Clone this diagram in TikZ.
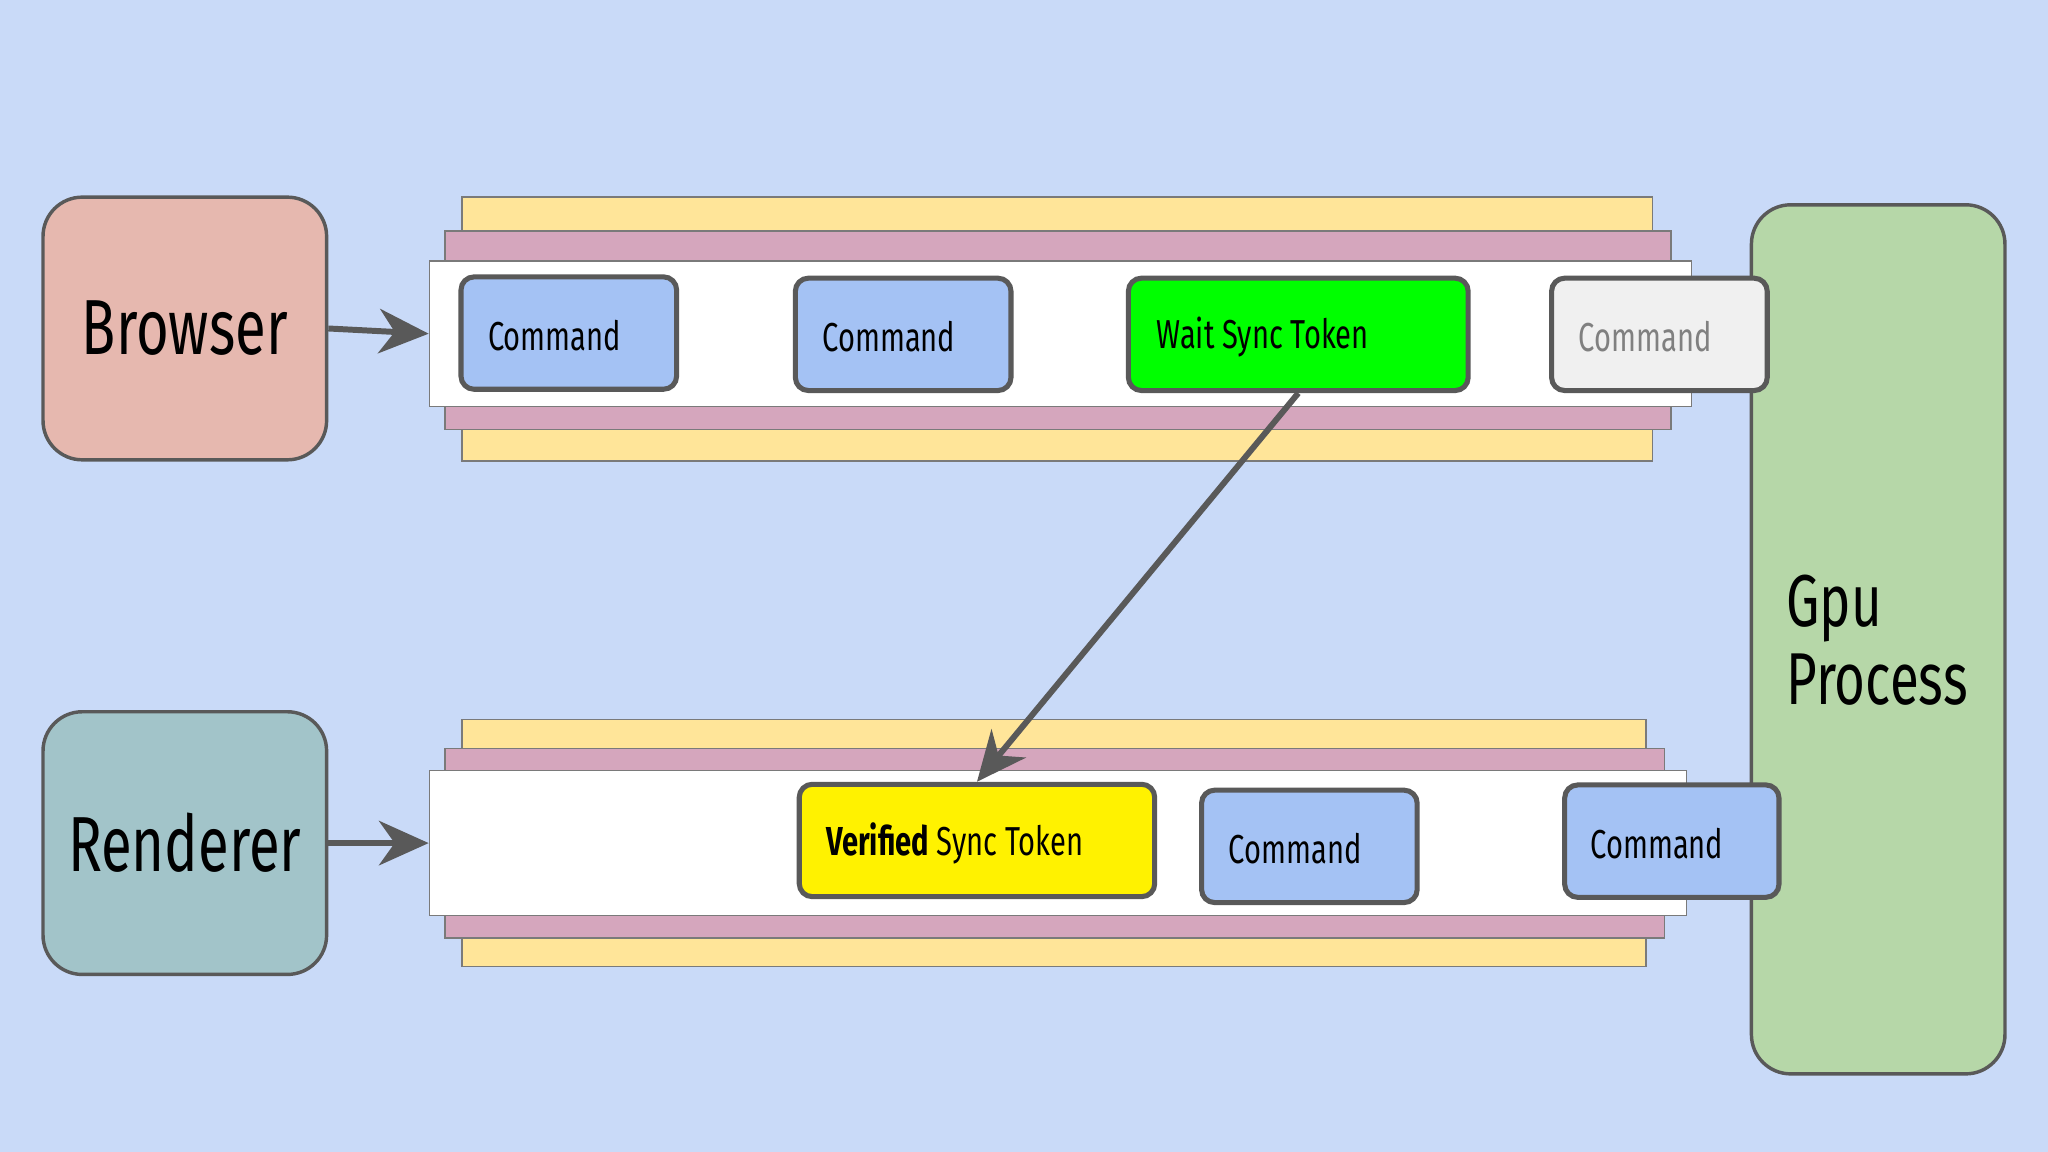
\documentclass[tikz,border=0pt]{standalone}
\usepackage{fontspec}
\setmainfont{Fira Sans}[FakeStretch=0.72]
\usetikzlibrary{arrows.meta}
\definecolor{bg}{HTML}{C9DAF8}
\definecolor{brow}{HTML}{E6B8AF}
\definecolor{rend}{HTML}{A2C4C9}
\definecolor{gpu}{HTML}{B6D7A8}
\definecolor{yel}{HTML}{FFE599}
\definecolor{pnk}{HTML}{D5A6BD}
\definecolor{cmd}{HTML}{A4C2F4}
\definecolor{ln}{HTML}{595959}
\begin{document}
\begin{tikzpicture}[x=0.01cm,y=-0.01cm,
 proc/.style={draw=ln,line width=0.75pt,rounded corners=0.3cm,inner sep=0},
 lay/.style={draw=ln!80,line width=0.3pt,inner sep=0},
 cb/.style={draw=ln,line width=1.1pt,rounded corners=0.1cm,fill=cmd,inner sep=0,minimum height=0.86cm},
 lbl/.style={anchor=west,font=\fontsize{8.8pt}{10pt}\selectfont,inner sep=0},
 arr/.style={draw=ln,line width=1.3pt,-{Stealth[length=0.38cm,width=0.34cm,inset=0.12cm]}}]
\fill[bg] (0,0) rectangle (1568,882);
\node[proc,fill=brow,minimum width=2.17cm,minimum height=2.01cm] (br) at (141.5,251.5) {};
\node[font=\fontsize{17pt}{20pt}\selectfont] at (br) {Browser};
\node[proc,fill=rend,minimum width=2.17cm,minimum height=2.01cm] (re) at (141.5,645.5) {};
\node[font=\fontsize{17pt}{20pt}\selectfont] at (re) {Renderer};
\node[proc,fill=gpu,minimum width=1.94cm,minimum height=6.65cm] (gp) at (1438,489.5) {};
\node[anchor=west,align=left,font=\fontsize{16pt}{17pt}\selectfont,inner sep=0] at (1367,490) {Gpu\\Process};
% top channel
\node[lay,fill=yel,minimum width=9.11cm,minimum height=2.02cm] at (809.5,252) {};
\node[lay,fill=pnk,minimum width=9.38cm,minimum height=1.52cm] at (810,253) {};
\node[lay,fill=white,minimum width=9.66cm,minimum height=1.11cm] (tc) at (812,255.5) {};
% bottom channel
\node[lay,fill=yel,minimum width=9.06cm,minimum height=1.89cm] at (807,645.5) {};
\node[lay,fill=pnk,minimum width=9.33cm,minimum height=1.45cm] at (807.5,645.5) {};
\node[lay,fill=white,minimum width=9.62cm,minimum height=1.11cm] (bc) at (810,645.5) {};
% commands top
\node[cb,minimum width=1.65cm] (c1) at (435.5,255) {};
\node[lbl] at (373,257) {Command};
\node[cb,minimum width=1.65cm] (c2) at (691.5,256) {};
\node[lbl] at (629,258) {Command};
\node[cb,fill=green,minimum width=2.6cm] (ws) at (994,256) {};
\node[lbl] at (885,258) {Wait Sync Token};
\node[cb,fill=gray!12,minimum width=1.65cm] (c3) at (1270.5,256) {};
\node[lbl,text=gray] at (1208,258) {Command};
% commands bottom
\node[cb,fill=yellow,minimum width=2.72cm] (vs) at (748,643.5) {};
\node[lbl] at (632,646) {\textbf{Verified} Sync Token};
\node[cb,minimum width=1.65cm] (c4) at (1002.5,648) {};
\node[lbl] at (940,650) {Command};
\node[cb,minimum width=1.64cm] (c5) at (1280,644) {};
\node[lbl] at (1217,646) {Command};
% arrows
\draw[arr] (br.east) -- (tc.west);
\draw[arr] (re.east) -- (bc.west);
\draw[arr] (ws.south) -- (vs.north);
\end{tikzpicture}
\end{document}
